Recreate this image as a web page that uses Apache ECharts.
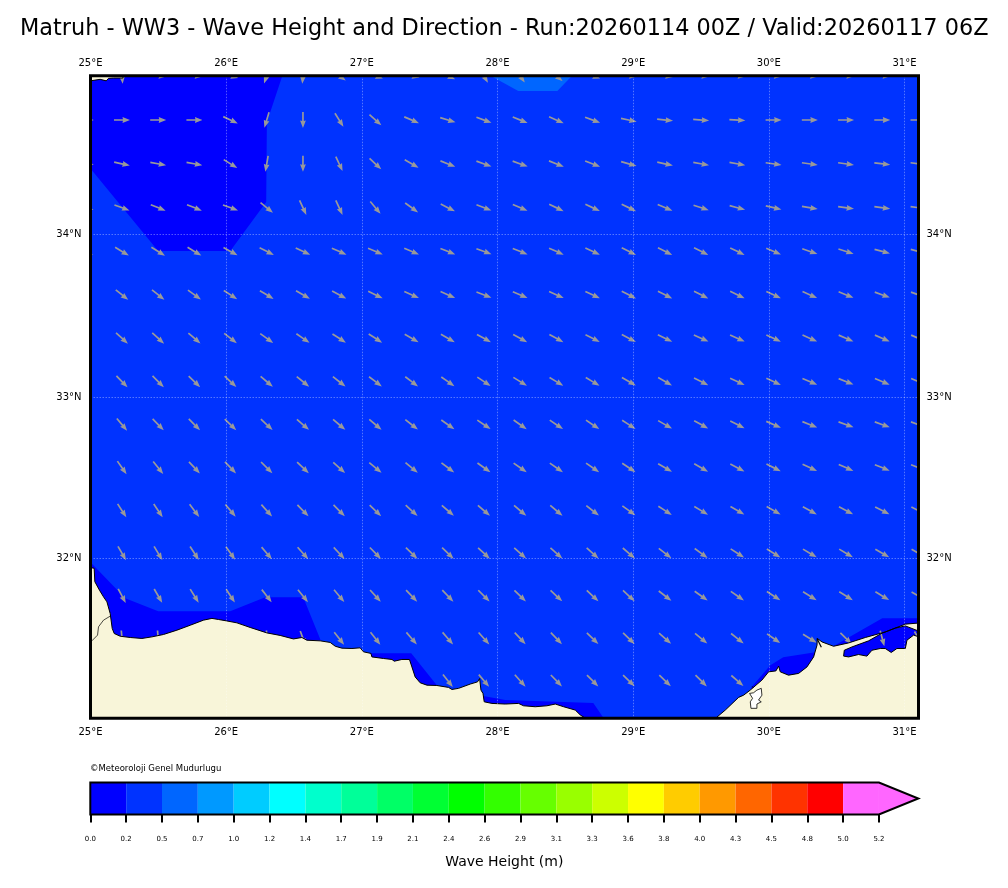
<!DOCTYPE html>
<html>
<head>
<meta charset="utf-8">
<script src="https://cdn.jsdelivr.net/npm/echarts@6/dist/echarts.min.js"></script>
<style>
html,body{margin:0;padding:0;background:#fff}
#main{width:1008px;height:888px}
</style>
</head>
<body>
<div id="main"></div>
<script>
// axis ticks
var lonTicks = [25, 26, 27, 28, 29, 30, 31];
var latTicks = [32, 33, 34];

// colour scale
var scaleLabels = ['0.0','0.2','0.5','0.7','1.0','1.2','1.4','1.7','1.9','2.1','2.4','2.6','2.9','3.1','3.3','3.6','3.8','4.0','4.3','4.5','4.8','5.0','5.2'];
var bandColors = ['#0000ff','#0033ff','#0066ff','#0099ff','#00ccff','#00ffff','#00ffcc','#00ff99','#00ff66','#00ff33','#00ff00','#33ff00','#66ff00','#99ff00','#ccff00','#ffff00','#ffcc00','#ff9900','#ff6600','#ff3300','#ff0000','#ff66ff'];

// wave height areas, [lon, lat]
var seaExtent = [[24.9,30.9],[31.2,30.9],[31.2,35.1],[24.9,35.1]];
var band02to05 = [[26.420,34.98],[31.2,34.98],[31.2,31.625],[30.836,31.625],[30.475,31.449],[30.342,31.412],[30.106,31.380],[30.011,31.330],[29.873,31.192],[29.821,31.110],[29.656,30.99],[28.787,30.99],[28.706,31.091],[28.057,31.110],[27.895,31.135],[27.858,31.135],[27.799,31.141],[27.563,31.192],[27.364,31.405],[27.069,31.405],[26.988,31.361],[26.693,31.424],[26.698,31.483],[26.568,31.757],[26.288,31.757],[26.030,31.669],[25.499,31.669],[25.256,31.751],[25.005,31.971],[24.9,31.971],[24.9,34.405],[25.010,34.393],[25.499,33.900],[26.030,33.900],[26.295,34.199],[26.300,34.685]];
var band05to07 = [[27.917,34.98],[28.153,34.873],[28.441,34.873],[28.566,34.98]];

// land
var landWest = [[25.0,30.99],[25.0,31.942],[25.027,31.938],[25.032,31.854],[25.066,31.801],[25.096,31.759],[25.121,31.728],[25.145,31.655],[25.160,31.561],[25.175,31.529],[25.219,31.512],[25.293,31.504],[25.379,31.498],[25.453,31.508],[25.538,31.523],[25.637,31.550],[25.735,31.581],[25.833,31.613],[25.895,31.624],[25.944,31.617],[26.005,31.608],[26.079,31.596],[26.177,31.567],[26.300,31.533],[26.398,31.517],[26.496,31.495],[26.558,31.504],[26.595,31.487],[26.693,31.483],[26.767,31.473],[26.804,31.449],[26.853,31.437],[26.927,31.435],[26.988,31.439],[27.012,31.414],[27.067,31.404],[27.074,31.382],[27.160,31.372],[27.222,31.366],[27.239,31.355],[27.295,31.366],[27.351,31.366],[27.369,31.319],[27.393,31.256],[27.430,31.219],[27.480,31.204],[27.553,31.202],[27.639,31.190],[27.664,31.177],[27.713,31.184],[27.799,31.211],[27.853,31.225],[27.868,31.246],[27.878,31.173],[27.893,31.152],[27.902,31.099],[27.959,31.089],[28.057,31.085],[28.155,31.089],[28.192,31.074],[28.278,31.068],[28.364,31.074],[28.426,31.085],[28.487,31.068],[28.573,31.047],[28.610,31.016],[28.659,30.99]];
var landEast = [[29.600,30.99],[29.679,31.047],[29.777,31.127],[29.814,31.141],[29.863,31.173],[29.949,31.236],[29.998,31.288],[30.052,31.294],[30.072,31.324],[30.084,31.288],[30.145,31.267],[30.219,31.278],[30.281,31.319],[30.330,31.382],[30.355,31.456],[30.357,31.498],[30.392,31.476],[30.477,31.449],[30.588,31.470],[30.711,31.504],[30.859,31.539],[31.006,31.588],[31.12,31.596],[31.12,31.539],[31.006,31.577],[30.932,31.563],[30.834,31.531],[30.735,31.483],[30.613,31.445],[30.556,31.424],[30.551,31.387],[30.588,31.382],[30.661,31.397],[30.723,31.387],[30.760,31.424],[30.821,31.435],[30.858,31.435],[30.902,31.410],[30.944,31.435],[31.006,31.435],[31.018,31.487],[31.067,31.519],[31.12,31.504],[31.12,30.99]];
var landCrete = [[25.0,35.1],[25.0,34.935],[25.071,34.944],[25.116,34.935],[25.133,34.950],[25.170,34.952],[25.239,34.952],[25.241,35.1]];
var lakeMariout = [[29.858,31.152],[29.887,31.156],[29.912,31.173],[29.944,31.184],[29.949,31.141],[29.924,31.110],[29.944,31.099],[29.912,31.085],[29.912,31.058],[29.868,31.058],[29.863,31.099],[29.880,31.121]];
var borderLine = [[25.145,31.638],[25.096,31.613],[25.059,31.571],[25.052,31.519],[25.010,31.483]];
var capeLine = [[30.355,31.498],[30.387,31.443]];
var isletLine = [[29.876,31.198],[29.885,31.186]];

// wave direction: degrees clockwise from east, one row per latitude
var arrowLons = [24.965,25.232,25.499,25.766,26.032,26.299,26.566,26.833,27.100,27.367,27.634,27.900,28.167,28.434,28.701,28.968,29.235,29.501,29.768,30.035,30.302,30.569,30.836,31.103];
var arrowLats = [34.965,34.698,34.432,34.165,33.898,33.632,33.365,33.098,32.832,32.565,32.298,32.032,31.765,31.498,31.232];
var arrowDirs = [
  [10,85,5,5,15,110,95,35,20,12,25,60,55,40,20,5,8,5,5,5,5,3,3,3],
  [0,0,0,0,25,107,90,58,42,23,17,20,22,24,20,12,6,4,3,0,0,0,0,0],
  [5,12,10,10,32,100,90,65,43,30,22,20,20,22,21,16,12,10,10,8,8,8,7,8],
  [15,20,22,22,20,39,65,65,50,36,27,21,23,26,25,26,23,18,15,13,10,8,8,8],
  [25,31,32,31,29,27,25,24,23,23,22,20,22,24,25,27,27,27,26,23,19,18,15,15],
  [38,39,39,36,33,31,30,28,26,24,24,21,23,24,25,27,27,27,26,25,24,22,20,20],
  [42,42,42,41,38,36,35,33,33,30,30,29,29,29,27,28,26,24,24,25,24,23,23,23],
  [46,46,45,44,43,40,39,38,37,37,35,34,32,31,31,30,30,27,25,25,23,22,23,23],
  [50,50,46,45,44,43,41,40,40,38,35,34,35,34,34,33,30,29,27,24,22,20,20,20],
  [56,55,51,47,46,45,43,42,40,40,37,36,35,35,35,34,30,30,28,27,25,24,22,22],
  [58,57,56,53,50,48,46,45,44,42,41,41,40,40,38,36,33,31,30,30,29,28,27,27],
  [61,60,59,57,55,50,48,47,46,44,44,43,42,42,42,41,38,36,33,32,31,31,30,30],
  [63,62,60,58,57,52,51,50,48,46,46,45,44,43,43,43,38,36,35,33,32,32,31,30],
  [70,85,85,65,65,88,70,52,52,49,49,48,47,46,44,44,41,40,38,35,32,45,75,60],
  [null,null,null,null,null,null,null,null,null,null,52,50,48,46,45,44,44,45,41,null,null,null,null,null]
];

// mercator map, the latitude axis is linear in this value
function merc(lat) {
  return Math.log(Math.tan(Math.PI / 4 + lat * Math.PI / 360)) * 180 / Math.PI;
}
function unmerc(m) {
  return (2 * Math.atan(Math.exp(m * Math.PI / 180)) - Math.PI / 2) * 180 / Math.PI;
}
function mapPoint(q) { return [q[0], merc(q[1])]; }
function plainPoint(q) { return q; }

var latMin = merc(30.995), latMax = merc(34.966);
var lonMin = 25, lonMax = 31.103;
var barMax = 23.097;
var fontName = '"DejaVu Sans"';

// one filled shape per ring
function ringSeries(rings, fill, stroke, lineWidth, z, axisIndex, project) {
  return {
    type: 'custom', coordinateSystem: 'cartesian2d', xAxisIndex: axisIndex, yAxisIndex: axisIndex,
    z: z, clip: axisIndex === 0, silent: true, animation: false,
    data: rings.map(function (r, i) { return [i]; }),
    renderItem: function (params, api) {
      return {
        type: 'polygon',
        shape: { points: rings[api.value(0)].map(function (q) { return api.coord(project(q)); }) },
        style: { fill: fill, stroke: stroke, lineWidth: lineWidth }
      };
    }
  };
}

function lineSeries(lines, lineWidth, z) {
  return {
    type: 'custom', coordinateSystem: 'cartesian2d', xAxisIndex: 0, yAxisIndex: 0,
    z: z, clip: true, silent: true, animation: false,
    data: lines.map(function (r, i) { return [i]; }),
    renderItem: function (params, api) {
      return {
        type: 'polyline',
        shape: { points: lines[api.value(0)].map(function (q) { return api.coord(mapPoint(q)); }) },
        style: { fill: 'none', stroke: '#000', lineWidth: lineWidth }
      };
    }
  };
}

var arrowData = [];
arrowLats.forEach(function (lat, r) {
  arrowLons.forEach(function (lon, c) {
    if (arrowDirs[r][c] !== null) arrowData.push([lon, merc(lat), arrowDirs[r][c]]);
  });
});

var arrowShape = [[-8,-0.85],[1,-0.85],[0.5,-2.9],[8,0],[0.5,2.9],[1,0.85],[-8,0.85]];

var bandData = bandColors.map(function (c, i) { return [i, i + 1]; });

var scaleTicks = scaleLabels.map(function (s, i) { return i; });

function lonAxis(pos, showSplit, margin) {
  return {
    type: 'value', gridIndex: 0, position: pos, min: lonMin, max: lonMax, z: 6,
    axisLine: { show: false },
    axisTick: { show: false, customValues: lonTicks },
    axisLabel: {
      fontFamily: fontName, fontSize: 10, color: '#000', margin: margin, customValues: lonTicks,
      formatter: function (v) { return v + '\u00b0E'; }
    },
    splitLine: { show: showSplit, lineStyle: { color: 'rgba(255,255,255,0.42)', width: 0.8, type: [1.5, 1.5] } }
  };
}
function latAxis(pos, showSplit, margin) {
  var vals = latTicks.map(merc);
  return {
    type: 'value', gridIndex: 0, position: pos, min: latMin, max: latMax, z: 6,
    axisLine: { show: false },
    axisTick: { show: false, customValues: vals },
    axisLabel: {
      fontFamily: fontName, fontSize: 10, color: '#000', margin: margin, customValues: vals,
      padding: [2, 0, 0, 0],
      formatter: function (v) { return Math.round(unmerc(v)) + '\u00b0N'; }
    },
    splitLine: { show: showSplit, lineStyle: { color: 'rgba(255,255,255,0.42)', width: 0.8, type: [1.5, 1.5] } }
  };
}

var option = {
  backgroundColor: '#fff',
  animation: false,
  title: [
    {
      text: 'Matruh - WW3 - Wave Height and Direction - Run:20260114 00Z / Valid:20260117 06Z',
      left: 20, top: 18,
      padding: 0,
      textStyle: { fontFamily: fontName, fontSize: 22.4, fontWeight: 'normal', color: '#000' }
    },
    {
      text: '\u00a9Meteoroloji Genel Mudurlugu',
      left: 90, top: 764,
      padding: 0,
      textStyle: { fontFamily: fontName, fontSize: 8.5, fontWeight: 'normal', color: '#000' }
    }
  ],
  grid: [
    { left: 90.5, top: 75.7, width: 828, height: 642.6, show: true, z: 7, backgroundColor: 'transparent', borderColor: '#000', borderWidth: 3 },
    { left: 90.3, top: 782.5, width: 828, height: 32 }
  ],
  xAxis: [
    lonAxis('bottom', true, 9),
    lonAxis('top', false, 7),
    {
      type: 'value', gridIndex: 1, min: 0, max: barMax, position: 'bottom',
      name: 'Wave Height (m)', nameLocation: 'middle', nameGap: 41,
      nameTextStyle: { fontFamily: fontName, fontSize: 14, color: '#000' },
      axisLine: { show: false },
      splitLine: { show: false },
      axisTick: { length: 8, lineStyle: { color: '#000', width: 2 }, customValues: scaleTicks },
      axisLabel: {
        fontFamily: fontName, fontSize: 7, color: '#000', margin: 21, customValues: scaleTicks,
        formatter: function (v) { return scaleLabels[v]; }
      }
    }
  ],
  yAxis: [
    latAxis('left', true, 9),
    latAxis('right', false, 8),
    { type: 'value', gridIndex: 1, min: 0, max: 1, show: false }
  ],
  series: [
    ringSeries([seaExtent], bandColors[0], null, 0, 1, 0, mapPoint),
    ringSeries([band02to05], bandColors[1], null, 0, 2, 0, mapPoint),
    ringSeries([band05to07], bandColors[2], null, 0, 3, 0, mapPoint),
    {
      type: 'custom', coordinateSystem: 'cartesian2d', xAxisIndex: 0, yAxisIndex: 0,
      z: 4, clip: true, silent: true, animation: false,
      data: arrowData,
      renderItem: function (params, api) {
        var p = api.coord([api.value(0), api.value(1)]);
        var a = api.value(2) * Math.PI / 180;
        var cos = Math.cos(a), sin = Math.sin(a);
        return {
          type: 'polygon',
          shape: { points: arrowShape.map(function (q) {
            return [p[0] + q[0] * cos - q[1] * sin, p[1] + q[0] * sin + q[1] * cos];
          }) },
          style: { fill: '#999999', stroke: null }
        };
      }
    },
    ringSeries([landWest, landEast, landCrete], '#f8f5d9', '#000', 1, 5, 0, mapPoint),
    ringSeries([lakeMariout], '#ffffff', '#000', 0.8, 5, 0, mapPoint),
    lineSeries([borderLine, isletLine], 0.7, 5),
    lineSeries([capeLine], 1.2, 5),
    // colour bar
    {
      type: 'custom', coordinateSystem: 'cartesian2d', xAxisIndex: 2, yAxisIndex: 2,
      z: 2, silent: true, animation: false,
      data: bandData,
      renderItem: function (params, api) {
        var a = api.coord([api.value(0), 1]);
        var b = api.coord([api.value(1), 0]);
        return {
          type: 'rect',
          shape: { x: a[0], y: a[1], width: b[0] - a[0], height: b[1] - a[1] },
          style: { fill: bandColors[params.dataIndex], stroke: null }
        };
      }
    },
    ringSeries([[[22,0],[barMax,0.5],[22,1]]], bandColors[21], null, 0, 2, 2, plainPoint),
    ringSeries([[[0,0],[22,0],[barMax,0.5],[22,1],[0,1]]], 'none', '#000', 2, 3, 2, plainPoint)
  ]
};

var myChart = echarts.init(document.getElementById('main'), null, { renderer: 'canvas' });
myChart.setOption(option);
</script>
</body>
</html>
